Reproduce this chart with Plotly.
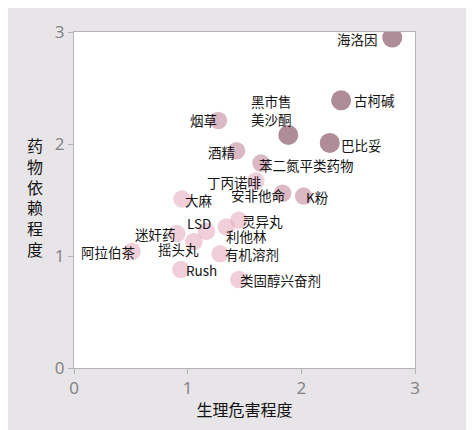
import plotly.graph_objects as go

drugs = ["海洛因", "古柯碱", "巴比妥", "黑市售<br>美沙酮", "酒精", "K粉", "苯二氮平类药物",
         "安非他命", "烟草", "丁丙诺啡", "大麻", "有机溶剂", "灵异丸", "LSD", "利他林",
         "类固醇兴奋剂", "迷奸药", "摇头丸", "Rush", "阿拉伯茶"]
physical_harm = [2.80, 2.35, 2.25, 1.885, 1.43, 2.02, 1.645,
                 1.835, 1.27, 1.60, 0.95, 1.285, 1.45, 1.165, 1.34,
                 1.45, 0.905, 1.055, 0.94, 0.51]
dependence = [2.95, 2.39, 2.01, 2.08, 1.94, 1.535, 1.83,
              1.56, 2.21, 1.67, 1.51, 1.02, 1.32, 1.22, 1.26,
              0.79, 1.20, 1.13, 0.88, 1.04]
ticks = [0, 1, 2, 3]

# label placement (anchor, xshift px, yshift px) - styling only
label_place = {
    "海洛因": ("right", -12, -1),
    "古柯碱": ("left", 11, 0),
    "巴比妥": ("left", 9, -2),
    "黑市售<br>美沙酮": ("center", -17, 25),
    "酒精": ("right", 0, -1),
    "K粉": ("left", 0, -1),
    "苯二氮平类药物": ("left", -4, -2),
    "安非他命": ("right", 5, -2),
    "烟草": ("right", 1, 0),
    "丁丙诺啡": ("right", 7, -1),
    "大麻": ("left", 1, -1),
    "有机溶剂": ("left", 3, 0),
    "灵异丸": ("left", 1, -1),
    "LSD": ("center", -7, 8),
    "利他林": ("left", -2, -9),
    "类固醇兴奋剂": ("left", -1, 0),
    "迷奸药": ("right", 1, 0),
    "摇头丸": ("right", 7, -8),
    "Rush": ("left", 3, -1),
    "阿拉伯茶": ("right", 6, 0),
}

def colour(x, y):
    s = x + y
    if s >= 3.9:
        return "rgba(140,92,110,1)"
    if s >= 3.3:
        return "rgba(196,143,162,0.9)"
    return "rgba(229,175,193,0.85)"

def size(x, y):
    return 20 if x + y >= 3.9 else 17.5

colors = [colour(x, y) for x, y in zip(physical_harm, dependence)]
sizes = [size(x, y) for x, y in zip(physical_harm, dependence)]

fig = go.Figure()
fig.add_trace(go.Scatter(
    x=physical_harm, y=dependence, mode="markers",
    marker=dict(color=colors, size=sizes, line=dict(width=0)),
    hoverinfo="skip", showlegend=False,
))

font = "Noto Sans CJK SC, Microsoft YaHei, sans-serif"
for name, x, y in zip(drugs, physical_harm, dependence):
    anchor, xs, ys = label_place[name]
    fig.add_annotation(x=x, y=y, text=name, showarrow=False,
                       xanchor=anchor, yanchor="middle", xshift=xs, yshift=ys,
                       font=dict(family=font, size=13.5, color="#141414"))

axis_common = dict(
    range=[0, 3], tickvals=ticks, ticktext=[str(t) for t in ticks],
    showgrid=False, zeroline=False, showline=True, linecolor="#b4b4b4",
    linewidth=1, mirror=True, ticks="outside", ticklen=5, tickcolor="#b4b4b4",
    tickfont=dict(family="Open Sans, sans-serif", size=17, color="#808080"),
)

fig.update_xaxes(**axis_common,
                 title=dict(text="生理危害程度", font=dict(family=font, size=16, color="#111"),
                            standoff=6))
fig.update_yaxes(**axis_common, title=None)

fig.add_annotation(xref="paper", yref="paper", x=-0.115, y=0.51,
                   text="<br>".join("药物依赖程度"), showarrow=False,
                   xanchor="center", yanchor="middle",
                   font=dict(family=font, size=16, color="#111"))

fig.update_layout(
    width=474, height=430,
    margin=dict(l=66, r=67, t=19, b=70),
    paper_bgcolor="#e7e5e7", plot_bgcolor="white",
    font=dict(family=font),
)

fig.write_html("out.html")
